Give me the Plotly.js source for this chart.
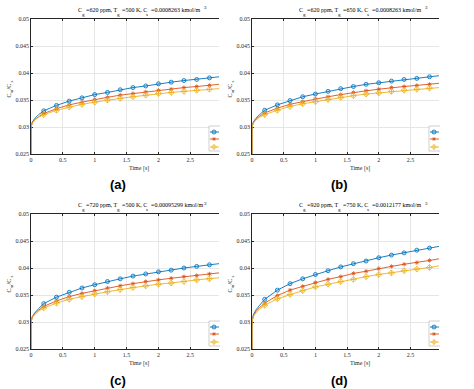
<!DOCTYPE html>
<html>
<head>
<meta charset="utf-8">
<script src="https://cdn.plot.ly/plotly-3.0.1.min.js"></script>
<style>html,body{margin:0;padding:0;background:#fff;}#chart{width:474px;height:389px;}</style>
</head>
<body>
<div id="chart"></div>
<script>
// ---- data ----
const times = [0, 0, 0.02, 0.06, 0.12, 0.2, 0.4, 0.6, 0.8, 1.0, 1.2, 1.4, 1.6, 1.8, 2.0, 2.2, 2.4, 2.6, 2.8, 2.95];
const markerStart = 5, markerEnd = 19; // markers drawn at t = 0.2 ... 2.8

const xTickVals = [0, 0.5, 1, 1.5, 2, 2.5];
const xTickText = ['0', '0.5', '1', '1.5', '2', '2.5'];
const yTickVals = [0.025, 0.03, 0.035, 0.04, 0.045, 0.05];
const yTickText = ['0.025', '0.03', '0.035', '0.04', '0.045', '0.05'];

const panelLabels = ['(a)', '(b)', '(c)', '(d)'];
// title pieces: [C, sub, "=... ppm, T", sub, "=... K, C", sub, "=... kmol/m", sup]
const panelTitles = [
  ['C', 'g', '=620 ppm, T', 'g', '=500 K, C', 's', '=0.0008263 kmol/m', '3'],
  ['C', 'g', '=620 ppm, T', 'g', '=650 K, C', 's', '=0.0008263 kmol/m', '3'],
  ['C', 'g', '=720 ppm, T', 'g', '=500 K, C', 's', '=0.00095299 kmol/m', '3'],
  ['C', 'g', '=920 ppm, T', 'g', '=750 K, C', 's', '=0.0012177 kmol/m', '3']
];
const xTitle = 'Time [s]';
const yTitlePieces = ['C', 'm', '/C', 's'];

const a_blue   = [0.025, 0.03, 0.0309, 0.0316, 0.0323, 0.0330, 0.0340, 0.0348, 0.0354, 0.0360, 0.0364, 0.0369, 0.0373, 0.0376, 0.0380, 0.0383, 0.0386, 0.0388, 0.0391, 0.0393];
const a_red    = [0.025, 0.03, 0.0308, 0.0314, 0.0319, 0.0325, 0.0334, 0.0341, 0.0346, 0.0351, 0.0355, 0.0359, 0.0362, 0.0365, 0.0368, 0.0370, 0.0373, 0.0375, 0.0377, 0.0379];
const a_yellow = [0.025, 0.03, 0.0307, 0.0313, 0.0318, 0.0323, 0.0331, 0.0337, 0.0342, 0.0346, 0.0350, 0.0353, 0.0356, 0.0359, 0.0362, 0.0364, 0.0366, 0.0368, 0.0370, 0.0371];

const b_blue   = [0.025, 0.03, 0.0309, 0.0316, 0.0323, 0.0331, 0.0341, 0.0349, 0.0356, 0.0361, 0.0366, 0.0371, 0.0375, 0.0379, 0.0382, 0.0385, 0.0388, 0.0390, 0.0393, 0.0395];
const b_red    = [0.025, 0.03, 0.0308, 0.0314, 0.0320, 0.0326, 0.0335, 0.0342, 0.0347, 0.0352, 0.0356, 0.0360, 0.0364, 0.0367, 0.0370, 0.0373, 0.0375, 0.0377, 0.0379, 0.0381];
const b_yellow = [0.025, 0.03, 0.0307, 0.0313, 0.0318, 0.0323, 0.0331, 0.0338, 0.0343, 0.0347, 0.0351, 0.0355, 0.0358, 0.0361, 0.0363, 0.0366, 0.0368, 0.0370, 0.0372, 0.0373];

const c_blue   = [0.025, 0.03, 0.0310, 0.0317, 0.0325, 0.0334, 0.0346, 0.0355, 0.0363, 0.0369, 0.0375, 0.0380, 0.0385, 0.0389, 0.0393, 0.0396, 0.0400, 0.0403, 0.0406, 0.0408];
const c_red    = [0.025, 0.03, 0.0309, 0.0316, 0.0322, 0.0329, 0.0339, 0.0347, 0.0353, 0.0358, 0.0363, 0.0367, 0.0371, 0.0375, 0.0378, 0.0381, 0.0384, 0.0386, 0.0389, 0.0391];
const c_yellow = [0.025, 0.03, 0.0308, 0.0314, 0.0320, 0.0326, 0.0335, 0.0342, 0.0347, 0.0352, 0.0356, 0.0360, 0.0364, 0.0367, 0.0370, 0.0372, 0.0375, 0.0378, 0.0380, 0.0382];

const d_blue   = [0.025, 0.03, 0.0313, 0.0322, 0.0331, 0.0342, 0.0359, 0.0371, 0.0380, 0.0388, 0.0395, 0.0402, 0.0408, 0.0413, 0.0419, 0.0424, 0.0428, 0.0433, 0.0437, 0.0440];
const d_red    = [0.025, 0.03, 0.0311, 0.0319, 0.0327, 0.0335, 0.0349, 0.0359, 0.0366, 0.0373, 0.0379, 0.0384, 0.0390, 0.0394, 0.0399, 0.0403, 0.0407, 0.0410, 0.0414, 0.0417];
const d_yellow = [0.025, 0.03, 0.0310, 0.0317, 0.0324, 0.0331, 0.0343, 0.0351, 0.0358, 0.0365, 0.0370, 0.0375, 0.0379, 0.0384, 0.0388, 0.0391, 0.0395, 0.0398, 0.0401, 0.0404];

const panelSeries = [
  [a_blue, a_red, a_yellow],
  [b_blue, b_red, b_yellow],
  [c_blue, c_red, c_yellow],
  [d_blue, d_red, d_yellow]
];

// ---- styling ----
const W = 474, H = 389;
const px = v => v / W;
const py = v => 1 - v / H;
const colors = ['#0072BD', '#D95319', '#EDB120'];
const markerStyles = [
  {symbol: 'circle', size: 4, color: 'rgba(0,114,189,0.2)', line: {color: '#0072BD', width: 0.8}},
  {symbol: 'asterisk-open', size: 3.5, color: '#D95319', line: {color: '#D95319', width: 0.8}},
  {symbol: 'diamond-cross-open', size: 4.5, color: '#EDB120', line: {color: '#EDB120', width: 0.8}}
];
// plot-area pixel boxes [left, right, top, bottom]
const boxes = [
  [31, 219, 19, 154],
  [252, 439, 19, 154],
  [31, 219, 214, 349],
  [252, 439, 214, 349]
];
// title piece offsets relative to the plot's left edge, and vertical offsets above plot top
const titleDX = [45, 49, 53, 84, 89, 113, 118, 171];
const titleDY = [9, 5, 9, 5, 9, 5, 9, 11];
const titleSize = [6, 5, 6, 5, 6, 5, 6, 5];
// y-title pieces: dx relative to left edge, dy relative to middle
const yTitleDX = [-23, -20, -23, -20];
const yTitleDY = [9, 5, 0, -5];
const yTitleSize = [6, 5, 6, 5];

const traces = [];
const layout = {
  width: W, height: H,
  margin: {l: 0, r: 0, t: 0, b: 0},
  paper_bgcolor: '#ffffff', plot_bgcolor: '#ffffff',
  showlegend: false,
  annotations: [], shapes: []
};

const tickFont = {family: 'Liberation Serif', size: 6, color: '#262626'};

panelSeries.forEach((series, p) => {
  const n = p + 1;
  const xa = 'x' + (n === 1 ? '' : n), ya = 'y' + (n === 1 ? '' : n);
  series.forEach((vals, s) => {
    traces.push({
      x: times, y: vals, xaxis: xa, yaxis: ya, type: 'scatter', mode: 'lines',
      line: {color: colors[s], width: 0.9}, hoverinfo: 'skip'
    });
  });
  series.forEach((vals, s) => {
    traces.push({
      x: times.slice(markerStart, markerEnd), y: vals.slice(markerStart, markerEnd),
      xaxis: xa, yaxis: ya, type: 'scatter', mode: 'markers',
      marker: markerStyles[s], cliponaxis: false, hoverinfo: 'skip'
    });
  });
  const [l, r, t, b] = boxes[p];
  const common = {
    showline: true, linecolor: '#262626', linewidth: 0.6,
    ticks: 'inside', ticklen: 2, tickcolor: '#262626', tickwidth: 0.6,
    showgrid: true, gridcolor: '#e6e6e6', gridwidth: 0.6,
    zeroline: false, tickfont: tickFont, layer: 'below traces', fixedrange: true
  };
  layout['xaxis' + (n === 1 ? '' : n)] = Object.assign({}, common, {
    domain: [px(l), px(r)], anchor: ya, range: [0, 2.95],
    tickmode: 'array', tickvals: xTickVals, ticktext: xTickText, mirror: 'ticks'
  });
  layout['yaxis' + (n === 1 ? '' : n)] = Object.assign({}, common, {
    domain: [py(b), py(t)], anchor: xa, range: [0.025, 0.05],
    tickmode: 'array', tickvals: yTickVals, ticktext: yTickText, mirror: false
  });

  // title (pieces, MATLAB-style offset sub/superscripts)
  panelTitles[p].forEach((txt, k) => {
    layout.annotations.push({
      xref: 'paper', yref: 'paper', x: px(l + titleDX[k]), y: py(t - titleDY[k]),
      xanchor: 'left', yanchor: 'middle', showarrow: false,
      text: txt, font: {family: 'Liberation Serif', size: titleSize[k], color: '#000'}
    });
  });
  // x title
  layout.annotations.push({
    xref: 'paper', yref: 'paper', x: px(l + 108), y: py(b + 14),
    xanchor: 'center', yanchor: 'middle', showarrow: false,
    text: xTitle, font: {family: 'Liberation Serif', size: 6, color: '#262626'}
  });
  // y title pieces (rotated)
  const ym = (t + b) / 2;
  yTitlePieces.forEach((txt, k) => {
    layout.annotations.push({
      xref: 'paper', yref: 'paper', x: px(l + yTitleDX[k]), y: py(ym + yTitleDY[k]),
      xanchor: 'center', yanchor: 'middle', showarrow: false, textangle: -90,
      text: txt, font: {family: 'Liberation Serif', size: yTitleSize[k], color: '#262626'}
    });
  });
  // panel label
  layout.annotations.push({
    xref: 'paper', yref: 'paper', x: px(l + 87), y: py(b + 31),
    xanchor: 'center', yanchor: 'middle', showarrow: false,
    text: '<b>' + panelLabels[p] + '</b>', font: {family: 'Liberation Sans', size: 13, color: '#000'}
  });

  // clipped legend box (cut at plot's right edge, as in reference)
  const lx = r - 10, lt = b - 28, lb = b - 3;
  layout.shapes.push({
    type: 'path', xref: 'paper', yref: 'paper',
    path: `M ${px(r + 1)} ${py(lt)} L ${px(lx)} ${py(lt)} L ${px(lx)} ${py(lb)} L ${px(r + 1)} ${py(lb)}`,
    line: {color: '#b0b0b0', width: 0.6}, fillcolor: 'rgba(255,255,255,1)'
  });
  const rows = [lt + 6, lt + 13, lt + 21];
  const mx = lx + 5;
  rows.forEach((ry, s) => {
    layout.shapes.push({
      type: 'line', xref: 'paper', yref: 'paper',
      x0: px(lx + 1), x1: px(r), y0: py(ry), y1: py(ry),
      line: {color: colors[s], width: 0.9}
    });
  });
  // legend symbols
  layout.shapes.push({
    type: 'circle', xref: 'paper', yref: 'paper',
    x0: px(mx - 2), x1: px(mx + 2), y0: py(rows[0] - 2), y1: py(rows[0] + 2),
    line: {color: colors[0], width: 0.8}, fillcolor: 'rgba(0,114,189,0.2)'
  });
  const a = 1.8, dgl = 1.3;
  layout.shapes.push({
    type: 'path', xref: 'paper', yref: 'paper',
    path: `M ${px(mx - a)} ${py(rows[1])} L ${px(mx + a)} ${py(rows[1])} M ${px(mx)} ${py(rows[1] - a)} L ${px(mx)} ${py(rows[1] + a)} ` +
          `M ${px(mx - dgl)} ${py(rows[1] - dgl)} L ${px(mx + dgl)} ${py(rows[1] + dgl)} M ${px(mx - dgl)} ${py(rows[1] + dgl)} L ${px(mx + dgl)} ${py(rows[1] - dgl)}`,
    line: {color: colors[1], width: 0.8}
  });
  const dd = 2.5;
  layout.shapes.push({
    type: 'path', xref: 'paper', yref: 'paper',
    path: `M ${px(mx - dd)} ${py(rows[2])} L ${px(mx)} ${py(rows[2] - dd)} L ${px(mx + dd)} ${py(rows[2])} L ${px(mx)} ${py(rows[2] + dd)} Z ` +
          `M ${px(mx)} ${py(rows[2] - dd)} L ${px(mx)} ${py(rows[2] + dd)}`,
    line: {color: colors[2], width: 0.8}
  });
});

Plotly.newPlot('chart', traces, layout, {displayModeBar: false});
</script>
</body>
</html>
